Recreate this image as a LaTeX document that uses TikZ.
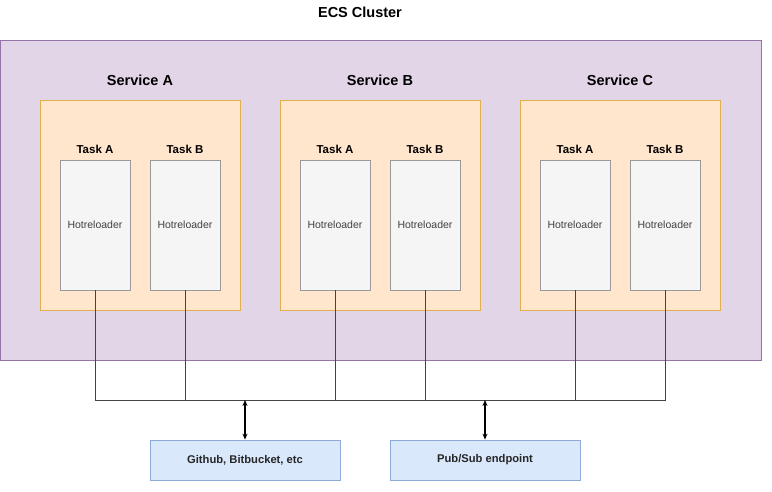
\documentclass[tikz,border=0pt]{standalone}
\usepackage{fontspec}
\setmainfont{Liberation Sans}
\usetikzlibrary{arrows.meta}
\usetikzlibrary{positioning}

\definecolor{clusterfill}{HTML}{E1D5E7}
\definecolor{clusterline}{HTML}{9673A6}
\definecolor{servfill}{HTML}{FFE6CC}
\definecolor{servline}{HTML}{E0B050}
\definecolor{taskfill}{HTML}{F5F5F5}
\definecolor{taskline}{HTML}{999999}
\definecolor{extfill}{HTML}{DAE8FC}
\definecolor{extline}{HTML}{8EAAD6}
\definecolor{wiregray}{HTML}{444444}

\tikzset{
  cluster/.style={draw=clusterline, fill=clusterfill, line width=0.8pt,
    minimum width=761pt, minimum height=320pt, inner sep=0pt},
  service/.style={draw=servline, fill=servfill, line width=0.8pt,
    minimum width=200pt, minimum height=210pt, inner sep=0pt},
  task/.style={draw=taskline, fill=taskfill, line width=0.8pt, text=black!75,
    minimum width=70pt, minimum height=130pt, inner sep=0pt, font=\fontsize{10.5}{12}\selectfont},
  ext/.style={draw=extline, fill=extfill, line width=0.8pt, text=black!85,
    minimum width=190pt, minimum height=40pt, inner sep=0pt, font=\bfseries\fontsize{11.2}{13}\selectfont},
  title/.style={font=\bfseries\fontsize{14.5}{16}\selectfont},
  tasktitle/.style={font=\bfseries\fontsize{11.5}{13}\selectfont},
  wire/.style={draw=wiregray, line width=0.7pt},
  both/.style={draw=black, line width=1.2pt, {Stealth[length=6pt,width=5pt]}-{Stealth[length=6pt,width=5pt]}}
}

\begin{document}
\begin{tikzpicture}[x=1pt, y=-1pt]
    \useasboundingbox (0,0) rectangle (772,492);

    % Cluster
    \node[cluster] (cluster) at (380.5,200) {};
    \node[title] (clustertitle) at (360,12) {ECS Cluster};

    % Services and their tasks
    \foreach \s/\cx in {A/140, B/380, C/620} {
        \node[service] (serv\s) at (\cx,205.5) {};
        \node[title] (serv\s title) at (\cx,80) {Service \s};
        \node[task] (task\s1) at (\cx-45,225) {Hotreloader};
        \node[task] (task\s2) at (\cx+45,225) {Hotreloader};
        \node[tasktitle, above=2pt of task\s1] (task\s1title) {Task A};
        \node[tasktitle, above=2pt of task\s2] (task\s2title) {Task B};
    }

    % Bus
    \coordinate (busL) at (95,400);
    \coordinate (busR) at (665.5,400);
    \draw[wire] (busL) -- (busR);
    \foreach \t in {A1,A2,B1,B2,C1,C2}
        \draw[wire] (task\t.south) -- (task\t.south |- busL);

    % Outside endpoints
    \node[ext] (git) at (245,460) {Github, Bitbucket, etc};
    \node[ext] (pubsub) at (485,460) {Pub/Sub endpoint};
    \draw[both] (git.north) -- (git.north |- busL);
    \draw[both] (pubsub.north) -- (pubsub.north |- busL);

\end{tikzpicture}
\end{document}
